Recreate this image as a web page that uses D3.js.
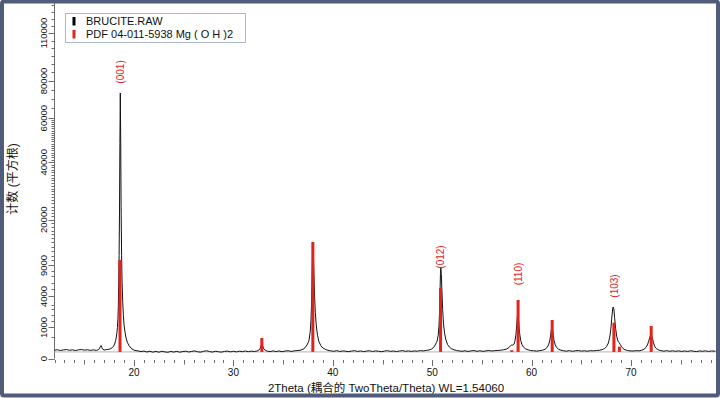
<!DOCTYPE html>
<html>
<head>
<meta charset="utf-8">
<script src="https://cdn.jsdelivr.net/npm/d3@7"></script>
<style>
  html, body { margin: 0; padding: 0; background: #fff; }
  svg { display: block; font-family: "Liberation Sans", Arial, "Noto Sans CJK SC", sans-serif; }
</style>
</head>
<body>
<div id="chart"></div>
<script>
// Series names (legend)
const seriesNames = ['BRUCITE.RAW', 'PDF 04-011-5938 Mg ( O H )2'];

const scanPoints = [
  [12.0, 72], [12.3, 80], [12.6, 66], [12.9, 76], [13.2, 84], [13.5, 70], [13.8, 78], [14.1, 66],
  [14.4, 77], [14.7, 85], [15.0, 72], [15.3, 80], [15.6, 68], [15.9, 78], [16.2, 68], [16.4, 80],
  [16.5, 95], [16.6, 140], [16.68, 175], [16.75, 130], [16.85, 90], [17.0, 74],
  [17.2, 82], [17.4, 86], [17.6, 95], [17.8, 120], [17.95, 160], [18.05, 220], [18.15, 330],
  [18.22, 480], [18.28, 700], [18.33, 1000], [18.38, 1600], [18.42, 2800], [18.46, 6000],
  [18.5, 11000], [18.54, 22000], [18.58, 48000], [18.62, 73200], [18.66, 50000], [18.7, 24000],
  [18.75, 11000], [18.8, 6000], [18.86, 3400], [18.93, 1900], [19.0, 1150], [19.1, 700],
  [19.2, 440], [19.33, 270], [19.5, 170], [19.7, 112], [19.9, 82], [20.1, 66],
  [20.4, 60], [20.7, 50], [21.0, 58], [21.3, 44], [21.6, 55], [21.9, 42], [22.2, 52], [22.5, 41],
  [22.8, 54], [23.1, 45], [23.4, 40], [23.7, 52], [24.0, 43], [24.3, 53], [24.6, 41], [24.9, 50],
  [25.2, 56], [25.5, 44], [25.8, 52], [26.1, 60], [26.4, 47], [26.7, 42], [27.0, 54], [27.3, 62],
  [27.6, 50], [27.9, 43], [28.2, 55], [28.5, 47], [28.8, 42], [29.1, 52], [29.4, 57], [29.7, 46],
  [30.0, 55], [30.3, 45], [30.6, 56], [30.9, 48], [31.2, 58], [31.5, 49], [31.8, 57], [32.1, 50],
  [32.4, 60],
  [32.55, 70], [32.7, 110], [32.8, 190], [32.87, 220], [32.95, 160], [33.05, 100], [33.2, 70], [33.4, 56],
  [33.7, 50], [34.0, 60], [34.3, 50], [34.6, 59], [34.9, 48], [35.2, 57], [35.5, 63], [35.8, 52],
  [36.1, 60], [36.4, 65], [36.7, 70], [37.0, 88], [37.2, 120], [37.4, 190], [37.52, 260],
  [37.6, 340], [37.72, 700], [37.8, 1500], [37.86, 3000], [37.91, 6500], [37.96, 10500],
  [38.0, 12230], [38.05, 11000], [38.1, 7500], [38.16, 4200], [38.24, 2200], [38.34, 1100],
  [38.46, 560], [38.6, 300], [38.8, 170], [39.0, 115], [39.25, 86], [39.5, 70], [39.8, 60],
  [40.1, 54], [40.4, 64], [40.7, 51], [41.0, 60], [41.3, 55], [41.6, 48], [41.9, 58], [42.2, 63],
  [42.5, 52], [42.8, 59], [43.1, 49], [43.4, 58], [43.7, 62], [44.0, 51], [44.3, 60], [44.6, 55],
  [44.9, 48], [45.2, 58], [45.5, 63], [45.8, 53], [46.1, 59], [46.4, 50], [46.7, 58], [47.0, 64],
  [47.3, 54], [47.6, 60], [47.9, 52], [48.2, 60], [48.5, 56], [48.8, 64], [49.1, 60], [49.4, 68],
  [49.7, 76], [49.95, 95], [50.15, 130], [50.3, 190], [50.42, 260], [50.5, 320], [50.6, 560],
  [50.68, 1100], [50.74, 2300], [50.79, 4800], [50.83, 7500], [50.87, 8510], [50.92, 7300],
  [50.98, 4600], [51.05, 2500], [51.13, 1300], [51.24, 680], [51.38, 360], [51.55, 200],
  [51.75, 130], [51.95, 98], [52.2, 78], [52.45, 66], [52.7, 60],
  [53.0, 54], [53.3, 62], [53.6, 52], [53.9, 60], [54.2, 65], [54.5, 54], [54.8, 62], [55.1, 53],
  [55.4, 60], [55.7, 66], [56.0, 58], [56.3, 64], [56.6, 68], [56.9, 72], [57.2, 80], [57.5, 95],
  [57.75, 130], [57.9, 175], [58.0, 190], [58.1, 185], [58.22, 210], [58.32, 310], [58.42, 580],
  [58.5, 1150], [58.56, 1750], [58.61, 1966], [58.66, 1780], [58.72, 1200], [58.8, 640],
  [58.9, 350], [59.02, 210], [59.18, 135], [59.4, 96], [59.65, 78], [59.9, 66],
  [60.2, 62], [60.5, 56], [60.8, 64], [61.1, 72], [61.35, 88], [61.55, 125], [61.7, 190],
  [61.82, 320], [61.92, 580], [61.99, 870], [62.04, 967], [62.1, 870], [62.17, 590], [62.26, 340],
  [62.38, 190], [62.52, 125], [62.7, 90], [62.95, 72], [63.2, 62],
  [63.5, 56], [63.8, 64], [64.1, 54], [64.4, 62], [64.7, 66], [65.0, 56], [65.3, 63], [65.6, 54],
  [65.9, 64], [66.2, 60], [66.5, 66], [66.8, 70], [67.1, 82], [67.35, 105], [67.55, 150],
  [67.72, 250], [67.85, 450], [67.97, 900], [68.06, 1650], [68.14, 2450], [68.2, 2756],
  [68.27, 2550], [68.35, 1750], [68.45, 950], [68.56, 520], [68.66, 340], [68.75, 275],
  [68.83, 255], [68.92, 205], [69.05, 145], [69.2, 102], [69.4, 80], [69.65, 66], [69.9, 60],
  [70.2, 58], [70.5, 64], [70.8, 60], [71.05, 70], [71.3, 88], [71.5, 125], [71.65, 190],
  [71.78, 310], [71.88, 460], [71.96, 565], [72.02, 574], [72.08, 540], [72.16, 410],
  [72.26, 260], [72.38, 155], [72.55, 102], [72.75, 78], [73.0, 64],
  [73.3, 56], [73.6, 64], [73.9, 54], [74.2, 62], [74.5, 53], [74.8, 61], [75.1, 51], [75.4, 60],
  [75.7, 52], [76.0, 62], [76.3, 55], [76.6, 50], [76.9, 60], [77.2, 54], [77.5, 61], [77.8, 52],
  [78.1, 59], [78.5, 55]
];

// Fitted background level (counts)
const backgroundCounts = 45;

// Reference pattern sticks (PDF 04-011-5938)
const stickAngles = [18.59, 32.86, 37.99, 50.84, 58.0, 58.64, 62.07, 68.28, 68.83, 72.03];
const stickCounts = [10080, 437, 14100, 5165, 72, 3556, 1540, 1332, 145, 1098];

// Miller index labels
const peakLabels  = ['(001)', '(012)', '(110)', '(103)'];
const labelAngles = [18.62, 50.82, 58.66, 68.3];
const labelCounts = [85300, 10700, 7420, 5460];

// Axis ticks
const yTickValues = [0, 1000, 4000, 9000, 20000, 40000, 60000, 80000, 110000];
const xTickValues = [20, 30, 40, 50, 60, 70];

const xTitle = '2Theta (耦合的 TwoTheta/Theta) WL=1.54060';
const yTitle = '计数 (平方根)';

const W = 720, H = 398;
const PLOT = { left: 54.5, right: 715.5, top: 3, bottom: 358.5 };
const RED = '#e3221c';
const INK = '#111';
const AXIS = '#6d6d6d';

const svg = d3.select('#chart').append('svg')
  .attr('width', W).attr('height', H);

const x = d3.scaleLinear().domain([12, 78.5]).range([PLOT.left, PLOT.right]);
const y = d3.scaleSqrt().domain([0, 131300]).range([PLOT.bottom, PLOT.top]);

// Y axis: line, minor and major ticks, rotated labels
const yMinor = d3.range(0, 3000, 500)
  .concat(d3.range(3000, 60000, 1000))
  .concat(d3.range(60000, 130001, 5000));

const yAxis = svg.append('g');
yAxis.append('line')
  .attr('x1', PLOT.left).attr('x2', PLOT.left)
  .attr('y1', PLOT.top).attr('y2', PLOT.bottom)
  .attr('stroke', AXIS);
yAxis.selectAll('line.minor').data(yMinor).join('line')
  .attr('class', 'minor')
  .attr('x1', PLOT.left - 3).attr('x2', PLOT.left)
  .attr('y1', d => Math.round(y(d)) + 0.5).attr('y2', d => Math.round(y(d)) + 0.5)
  .attr('stroke', AXIS);
yAxis.selectAll('line.major').data(yTickValues).join('line')
  .attr('class', 'major')
  .attr('x1', PLOT.left - 6).attr('x2', PLOT.left)
  .attr('y1', d => Math.round(y(d)) + 0.5).attr('y2', d => Math.round(y(d)) + 0.5)
  .attr('stroke', AXIS);
yAxis.selectAll('text').data(yTickValues).join('text')
  .attr('transform', d => `translate(43,${y(d)}) rotate(-90)`)
  .attr('text-anchor', 'middle').attr('dominant-baseline', 'central')
  .attr('font-size', '9.5px').attr('fill', INK)
  .text(d => d);

// X axis: ticks only, no baseline
const xAxis = svg.append('g');
const xMinor = d3.range(12, 79, 1);
xAxis.selectAll('line').data(xMinor).join('line')
  .attr('x1', d => Math.round(x(d)) + 0.5).attr('x2', d => Math.round(x(d)) + 0.5)
  .attr('y1', 360)
  .attr('y2', d => 360 + (d % 10 === 0 ? 6 : d % 5 === 0 ? 4.5 : 3))
  .attr('stroke', AXIS);
xAxis.selectAll('text').data(xTickValues).join('text')
  .attr('x', d => x(d)).attr('y', 375.5)
  .attr('text-anchor', 'middle')
  .attr('font-size', '10px').attr('fill', INK)
  .text(d => d);

// Axis titles
svg.append('text')
  .attr('x', 386).attr('y', 392)
  .attr('text-anchor', 'middle').attr('font-size', '11.5px').attr('fill', INK)
  .text(xTitle);
svg.append('text')
  .attr('transform', 'translate(13,179) rotate(-90)')
  .attr('text-anchor', 'middle').attr('dominant-baseline', 'central')
  .attr('font-size', '12px').attr('fill', INK)
  .text(yTitle);

// Background line
svg.append('line')
  .attr('x1', x(12)).attr('x2', x(78.5))
  .attr('y1', y(backgroundCounts)).attr('y2', y(backgroundCounts))
  .attr('stroke', '#b4b4b4').attr('stroke-width', 1);

// Measured pattern
const line = d3.line().x(d => x(d[0])).y(d => y(d[1]));
svg.append('path')
  .datum(scanPoints)
  .attr('fill', 'none')
  .attr('stroke', INK)
  .attr('stroke-width', 1)
  .attr('stroke-linejoin', 'round')
  .attr('d', line);

// Reference sticks
svg.append('g').selectAll('line').data(stickAngles).join('line')
  .attr('x1', d => x(d)).attr('x2', d => x(d))
  .attr('y1', y(backgroundCounts))
  .attr('y2', (d, i) => y(stickCounts[i]))
  .attr('stroke', RED).attr('stroke-width', 3);

// Peak labels
svg.append('g').selectAll('text').data(peakLabels).join('text')
  .attr('transform', (d, i) => `translate(${x(labelAngles[i])},${y(labelCounts[i])}) rotate(-90)`)
  .attr('text-anchor', 'middle').attr('dominant-baseline', 'central')
  .attr('font-size', '10px').attr('fill', RED)
  .text(d => d);

// Legend
const legend = svg.append('g');
legend.append('rect')
  .attr('x', 65.5).attr('y', 13.5).attr('width', 180).attr('height', 29)
  .attr('fill', '#fff').attr('stroke', '#aab6c9');
legend.selectAll('rect.key').data(seriesNames).join('rect')
  .attr('class', 'key')
  .attr('x', 72.5).attr('y', (d, i) => 17 + i * 13)
  .attr('width', 3).attr('height', 8.5)
  .attr('fill', (d, i) => i === 0 ? '#000' : RED);
legend.selectAll('text').data(seriesNames).join('text')
  .attr('x', 86).attr('y', (d, i) => 24.5 + i * 13)
  .attr('font-size', '11px').attr('fill', INK)
  .text(d => d);

// Window frame
svg.append('rect')
  .attr('x', 2).attr('y', 1.5).attr('width', 716).attr('height', 394)
  .attr('fill', 'none').attr('stroke', '#4f5d7b').attr('stroke-width', 4)
  .attr('rx', 2);
</script>
</body>
</html>
